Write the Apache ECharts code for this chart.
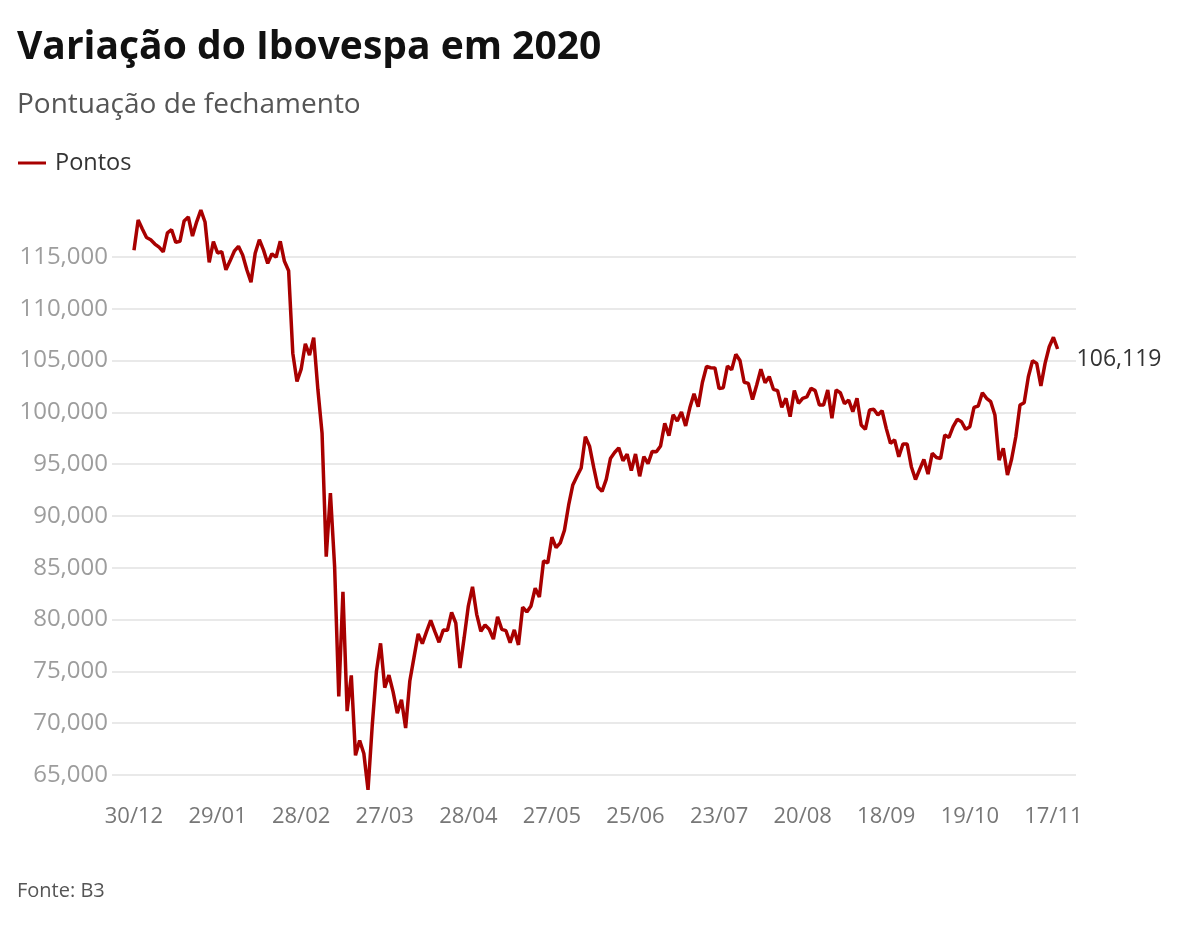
<!DOCTYPE html>
<html><head><meta charset="utf-8">
<script src="https://cdn.jsdelivr.net/npm/echarts@6/dist/echarts.min.js"></script>
<style>html,body{margin:0;padding:0;background:#fff}#chart{width:1200px;height:931px}</style>
</head><body><div id="chart"></div>
<script>
const titleText = 'Variação do Ibovespa em 2020';
const subtitleText = 'Pontuação de fechamento';
const sourceText = 'Fonte: B3';
const seriesName = 'Pontos';
// x tick labels: one every 20 trading days, starting at the first session
const dateLabels = ['30/12','29/01','28/02','27/03','28/04','27/05','25/06','23/07','20/08','18/09','19/10','17/11'];
const labelEvery = 20;
// daily closing points, trading sessions from 30/12/2019 to 18/11/2020
const closesQ1 = [115645,118573,117707,116878,116662,116247,115947,115503,117325,117632,
  116414,116517,118478,118862,117026,118391,119528,118376,114482,116479,
  115385,115528,113761,114629,115557,116028,115190,113770,112571,115371,
  116674,115662,114381,115309,114977,116518,114586,113681,105718,102984,
  104172,106625,105537,107224,102233,97997,86067,92214,85171,72583,
  82678,71168,74617,66895,68332,67069,63570,69729,74956,77710];
const closesQ2 = [73429,74640,73020,70967,72253,69538,74073,76358,78625,77682,
  78835,79918,78831,77812,78990,78973,80687,79673,75331,78238,
  81312,83171,80506,78876,79471,79064,78119,80263,79065,78928,
  77772,79011,77557,81194,80742,81319,83027,82173,85663,85469,
  87946,86949,87403,88620,91046,93002,93828,94637,97645,96747,
  94686,92795,92375,93531,95547,96125,96572,95336,95975,94377,95983,93834,95735,95056];
const closesQ3 = [96235,96203,96765,98937,97761,99770,99160,100032,98697,100440,
  101791,100553,102888,104426,104310,104290,102293,102382,104477,104109,
  105605,105008,102912,102802,101250,102640,104160,102870,103450,102230,
  102100,100500,101360,99590,102100,100880,101360,101500,102320,102100,
  100715,100715,102160,99430,102160,101900,100840,101200,100070,101360,
  98780,98360,100230,100300,99750,100160,98460,97010,97340,95720,96950,96950,94760,93520,94500,95460,94050];
const closesQ4 = [96050,95650,95550,97810,97580,98620,99330,99100,98360,98620,
  100490,100620,101900,101360,101030,99750,95400,96540,93960,95500,
  97650,100715,100940,103440,104990,104730,102550,104730,106340,107250,106119];
const closes = closesQ1.concat(closesQ2, closesQ3, closesQ4);

const fmt = v => Math.round(v).toLocaleString('en-US');
const FONT = "'Open Sans', 'Noto Sans', sans-serif";

const chart = echarts.init(document.getElementById('chart'), null, {renderer: 'canvas'});
chart.setOption({
  animation: false,
  backgroundColor: '#ffffff',
  textStyle: {fontFamily: FONT},
  title: [
    {text: titleText, left: 12, top: 23,
     textStyle: {fontSize: 39, fontWeight: 'bold', color: '#111', fontFamily: FONT}},
    {text: subtitleText, left: 12, top: 86,
     textStyle: {fontSize: 28, fontWeight: 'normal', color: '#555', fontFamily: FONT}},
    {text: sourceText, left: 12, top: 876,
     textStyle: {fontSize: 20, fontWeight: 'normal', color: '#555', fontFamily: FONT}}
  ],
  legend: {
    data: [seriesName], left: 13, top: 146, icon: 'rect', itemWidth: 28, itemHeight: 3,
    itemGap: 8, textStyle: {fontSize: 23.5, color: '#333', fontFamily: FONT, padding: [0, 0, 0, 4]}
  },
  grid: {left: 112, right: 124, top: 257, bottom: 156, containLabel: false},
  xAxis: {
    type: 'value', min: -5.26, max: 225.4,
    axisLine: {show: false}, axisTick: {show: false}, splitLine: {show: false},
    axisLabel: {
      customValues: dateLabels.map((d, k) => k * labelEvery),
      formatter: v => dateLabels[Math.round(v / labelEvery)] || '',
      color: '#777', fontSize: 22, margin: 31, fontFamily: FONT
    }
  },
  yAxis: {
    type: 'value', min: 65000, max: 115000, interval: 5000,
    axisLine: {show: false}, axisTick: {show: false},
    axisLabel: {formatter: v => fmt(v), color: '#9d9d9d', fontSize: 24, margin: 4, fontFamily: FONT},
    splitLine: {lineStyle: {color: '#e2e2e2', width: 1.5}}
  },
  series: [{
    name: seriesName, type: 'line', clip: false, showSymbol: false, symbol: 'none',
    data: closes.map((v, i) => [i, v]),
    color: '#a80000',
    lineStyle: {color: '#a80000', width: 3.5},
    endLabel: {show: true, formatter: p => fmt(p.value[1]), color: '#333', fontSize: 23,
      fontFamily: FONT, offset: [11, 10]},
    emphasis: {disabled: true}
  }]
});
</script></body></html>
